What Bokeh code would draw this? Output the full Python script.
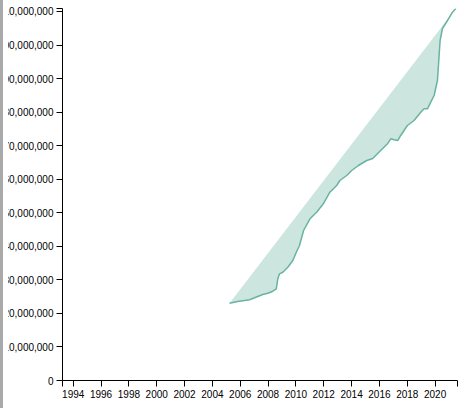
from bokeh.plotting import figure
from bokeh.models import Range1d, FixedTicker, Column
from bokeh.embed import file_html
from bokeh.resources import INLINE

# ---- data ----
years = [2005.23, 2005.82, 2006.31, 2006.67, 2007.03, 2007.26, 2007.62, 2007.98,
         2008.34, 2008.59, 2008.70, 2008.82, 2009.06, 2009.42, 2009.78, 2010.03,
         2010.26, 2010.55, 2011.01, 2011.49, 2011.97, 2012.44, 2012.93, 2013.16,
         2013.65, 2014.01, 2014.49, 2015.09, 2015.52, 2016.09, 2016.58, 2016.81,
         2017.05, 2017.32, 2017.53, 2017.77, 2018.01, 2018.49, 2018.97, 2019.21,
         2019.45, 2019.69, 2019.93, 2020.17, 2020.36, 2020.53, 2020.89, 2021.25,
         2021.49]
values = [23040000, 23550000, 23850000, 24050000, 24650000, 25040000, 25630000,
          26020000, 26620000, 27330000, 30310000, 31800000, 32280000, 33770000,
          35770000, 38240000, 40240000, 44710000, 48200000, 50160000, 52670000,
          56120000, 58120000, 59610000, 61100000, 62590000, 64080000, 65570000,
          66170000, 68550000, 70550000, 72040000, 71740000, 71540000, 73030000,
          74520000, 76010000, 77500000, 79970000, 80980000, 80980000, 82950000,
          84950000, 89420000, 101340000, 104920000, 107300000, 109770000, 110880000]

x_domain = [1993.23, 2021.61]
x_ticks = [1994, 1996, 1998, 2000, 2002, 2004, 2006, 2008, 2010, 2012, 2014,
           2016, 2018, 2020]
y_ticks = [0, 10000000, 20000000, 30000000, 40000000, 50000000, 60000000,
           70000000, 80000000, 90000000, 100000000, 110000000]
y_tick_labels = ["0", "10,000,000", "20,000,000", "30,000,000", "40,000,000",
                 "50,000,000", "60,000,000", "70,000,000", "80,000,000",
                 "90,000,000", "100,000,000", "110,000,000"]

FONT = "Liberation Sans"
y_end = max(values)

p = figure(width=485, height=408, output_backend="svg", toolbar_location=None,
           x_range=Range1d(x_domain[0], x_domain[1]), y_range=Range1d(0, y_end),
           min_border_left=70, min_border_right=9, min_border_top=8,
           min_border_bottom=28)
# the canvas starts left of the page; its left part is clipped away so the
# long tick labels are cut at the page edge as in the reference
p.styles = {"margin-left": "-11px", "clip-path": "inset(0px 0px 0px 16px)"}
p.background_fill_color = "white"
p.border_fill_color = "white"
p.outline_line_color = None
p.xgrid.visible = False
p.ygrid.visible = False

# filled path (line closed on itself) and the line
p.patch(years, values, fill_color="#cce5df", line_color=None)
p.line(years, values, line_color="#69b3a2", line_width=1.5)

for ax in (p.xaxis[0], p.yaxis[0]):
    ax.axis_line_color = "black"
    ax.axis_line_width = 1
    ax.major_tick_line_color = "black"
    ax.minor_tick_line_color = "black"
    ax.major_tick_in = 0
    ax.major_tick_out = 6
    ax.minor_tick_in = 0
    ax.minor_tick_out = 6
    ax.major_label_text_font = FONT
    ax.major_label_text_font_size = "10px"
    ax.major_label_text_color = "black"

p.xaxis.ticker = FixedTicker(ticks=x_ticks, minor_ticks=x_domain)
p.xaxis.major_label_standoff = 3

p.yaxis.ticker = FixedTicker(ticks=y_ticks, minor_ticks=[y_end])
p.yaxis.major_label_overrides = {t: s for t, s in zip(y_ticks, y_tick_labels)}
p.yaxis.major_label_standoff = 3

layout = Column(children=[p], styles={"border-left": "3px solid #a9a9a9"})

open("out.html", "w").write(file_html(layout, INLINE))
